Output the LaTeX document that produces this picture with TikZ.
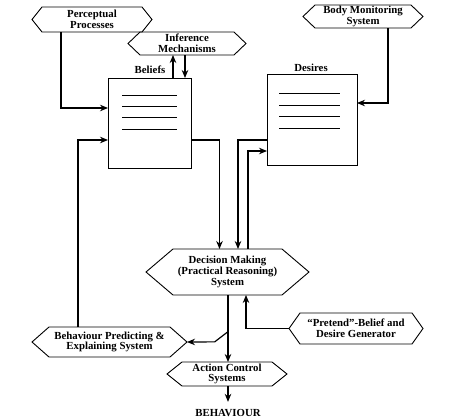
\documentclass[tikz,border=0pt]{standalone}
\usepackage{fontspec}
\setmainfont{Liberation Serif}
\usetikzlibrary{arrows.meta,calc}
\tikzset{
  txt/.style={font=\fontsize{10.8}{10.8}\selectfont\bfseries, align=center, inner sep=0pt, outer sep=0pt},
  hexline/.style={draw=black, line width=0.9pt, line join=miter},
  memo/.style={draw=black, line width=1pt, inner sep=0pt, outer sep=0pt},
  memoline/.style={draw=black, line width=1pt},
  arr/.style={draw=black, line width=1.2pt, -{Stealth[length=8pt,width=6.5pt]}},
  conn/.style={draw=black, line width=1.2pt}
}
\newcommand\hexaround[2]{\draw[hexline] ([xshift=-#2]#1.west) -- (#1.north west) -- (#1.north east) -- ([xshift=#2]#1.east) -- (#1.south east) -- (#1.south west) -- cycle;}
\begin{document}
\begin{tikzpicture}[x=1pt,y=-1pt]
\useasboundingbox (0,0) rectangle (474,418);

% hexagon nodes
\node[txt, minimum width=100, minimum height=25] (pp) at (92,19.5) {Perceptual\\Processes};
\hexaround{pp}{10}
\node[txt, minimum width=94, minimum height=23] (inf) at (187,43.5) {Inference\\Mechanisms};
\hexaround{inf}{12}
\node[txt, minimum width=96, minimum height=23] (bm) at (363,16.5) {Body Monitoring\\System};
\hexaround{bm}{12}
\node[txt, minimum width=109, minimum height=46] (dm) at (227.5,272) {Decision Making\\(Practical Reasoning)\\System};
\hexaround{dm}{27}
\node[txt, minimum width=121, minimum height=30] (bp) at (109.5,342) {Behaviour Predicting \&\\Explaining System};
\hexaround{bp}{17}
\node[txt, minimum width=90, minimum height=24] (ac) at (227,374) {Action Control\\Systems};
\hexaround{ac}{15}
\node[txt, minimum width=112, minimum height=31] (pg) at (356,328.5) {``Pretend''-Belief and\\Desire Generator};
\hexaround{pg}{11}

% boxes
\node[memo, minimum width=83, minimum height=90] (bel) at (149.5,123) {};
\node[memo, minimum width=90, minimum height=91] (des) at (312,119.5) {};
\node[txt] (bellab) at (150,70) {Beliefs};
\node[txt] (deslab) at (311,68) {Desires};

\foreach \dy in {-28,-17,-6,6}
  \draw[memoline] ([shift={(-27.5,\dy)}]bel.center) -- ++(55,0);
\foreach \dy in {-26.5,-14.5,-3.5,8.5}
  \draw[memoline] ([shift={(-33,\dy)}]des.center) -- ++(61,0);

\node[txt, anchor=base] (beh) at (228,416) {BEHAVIOUR};

% connectors
\draw[arr] ([xshift=-31]pp.south) |- ([yshift=15]bel.west);
\draw[arr] ([xshift=-31.5]bp.north) |- ([yshift=-17]bel.west);
\draw[arr] ([xshift=23.5]bel.north) -- ([xshift=-14]inf.south);
\draw[arr] ([xshift=-2]inf.south) -- ([xshift=35.5]bel.north);
\draw[arr] ([yshift=-17]bel.east) -| ([xshift=-8]dm.north);
\draw[arr] ([yshift=-20.5]des.west) -| ([xshift=10.5]dm.north);
\draw[arr] ([xshift=20.5]dm.north) |- ([yshift=-31.5]des.west);
\draw[arr] ([xshift=25]bm.south) |- ([yshift=16.5]des.east);
\draw[arr] ([xshift=0.5]dm.south) -- ([xshift=1]ac.north);
\coordinate (brk) at ($(dm.south)!0.55!(ac.north)+(0.5,0)$);
\draw[arr] (brk) -- ++(-13,10) -- ([xshift=17]bp.east);
\draw[arr] ([xshift=-11]pg.west) -| ([xshift=18.5]dm.south);
\draw[arr] ([xshift=1]ac.south) -- ([xshift=0,yshift=7]beh.north);
\end{tikzpicture}
\end{document}
